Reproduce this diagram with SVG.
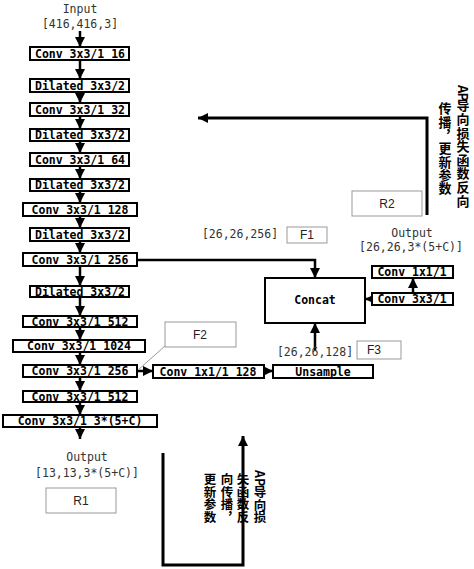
<svg xmlns="http://www.w3.org/2000/svg" width="474" height="569" viewBox="0 0 474 569">
<style>
.b{fill:#fff;stroke:#000;stroke-width:2}
.g{fill:#fff;stroke:#999;stroke-width:1}
.t{font-family:"DejaVu Sans Mono","Liberation Mono",monospace;font-size:11.5px;font-weight:bold;fill:#000;text-anchor:middle}
.l{font-family:"DejaVu Sans Mono","Liberation Mono",monospace;font-size:11.5px;fill:#333;text-anchor:middle}
.s{font-family:"Liberation Sans","Noto Sans",sans-serif;font-size:12px;fill:#222;text-anchor:middle}
.v{font-family:"Noto Sans CJK SC",sans-serif;font-size:13px;font-weight:bold;fill:#000;writing-mode:vertical-rl}
.vb{font-size:12.5px}
.c{fill:none;stroke:#000;stroke-width:2.5}
.c3{fill:none;stroke:#000;stroke-width:3}
</style>
<defs>
<marker id="ah" markerUnits="userSpaceOnUse" markerWidth="10" markerHeight="10" refX="10" refY="5" orient="auto">
<path d="M0,0 L10,5 L0,10 z" fill="#000"/>
</marker>
<marker id="ahs" markerUnits="userSpaceOnUse" markerWidth="8" markerHeight="8" refX="8" refY="4" orient="auto">
<path d="M0,0 L8,4 L0,8 z" fill="#000"/>
</marker>
</defs>

<g id="connectors">
<line class="c" x1="80" y1="31" x2="80" y2="47" marker-end="url(#ah)"/>
<line class="c" x1="80" y1="60" x2="80" y2="79" marker-end="url(#ah)"/>
<line class="c" x1="80" y1="92" x2="80" y2="103" marker-end="url(#ah)"/>
<line class="c" x1="80" y1="116" x2="80" y2="129" marker-end="url(#ah)"/>
<line class="c" x1="80" y1="141" x2="80" y2="153" marker-end="url(#ah)"/>
<line class="c" x1="80" y1="166" x2="80" y2="179" marker-end="url(#ah)"/>
<line class="c" x1="80" y1="191" x2="80" y2="203" marker-end="url(#ah)"/>
<line class="c" x1="80" y1="216" x2="80" y2="228" marker-end="url(#ah)"/>
<line class="c" x1="80" y1="241" x2="80" y2="253" marker-end="url(#ah)"/>
<line class="c" x1="80" y1="266" x2="80" y2="286" marker-end="url(#ah)"/>
<line class="c" x1="80" y1="297" x2="80" y2="316" marker-end="url(#ah)"/>
<line class="c" x1="80" y1="327" x2="80" y2="340" marker-end="url(#ah)"/>
<line class="c" x1="80" y1="352" x2="80" y2="365" marker-end="url(#ah)"/>
<line class="c" x1="80" y1="377" x2="80" y2="391" marker-end="url(#ah)"/>
<line class="c" x1="80" y1="402" x2="80" y2="415" marker-end="url(#ah)"/>
<line class="c" x1="80" y1="427" x2="80" y2="439" marker-end="url(#ah)"/>
<polyline class="c" points="137,260 315,260 315,278" marker-end="url(#ah)"/>
<line class="c" x1="315" y1="350" x2="315" y2="323" marker-end="url(#ah)"/>
<line class="c" x1="372" y1="299" x2="365" y2="299" marker-end="url(#ahs)"/>
<line class="c" x1="413" y1="293" x2="413" y2="278" marker-end="url(#ah)"/>
<line class="c" x1="137" y1="371" x2="153" y2="371" marker-end="url(#ah)"/>
<line class="c" x1="264" y1="371" x2="273" y2="371" marker-end="url(#ahs)"/>
<line x1="165" y1="346" x2="138" y2="370" stroke="#999" stroke-width="1"/>
<polyline class="c3" points="427,215 427,118 198,118" marker-end="url(#ah)"/>
<polyline class="c3" points="163,453 163,565 243,565 243,436" marker-end="url(#ah)"/>
</g>

<g id="input"><text class="l" x="80" y="13">Input</text><text class="l" x="80" y="28">[416,416,3]</text></g>
<g id="n1"><rect class="b" x="30" y="47" width="99" height="13"/><text class="t" x="80" y="57.5">Conv 3x3/1 16</text></g>
<g id="n2"><rect class="b" x="30" y="79" width="99" height="13"/><text class="t" x="80" y="89.5">Dilated 3x3/2</text></g>
<g id="n3"><rect class="b" x="30" y="103" width="99" height="13"/><text class="t" x="80" y="113.5">Conv 3x3/1 32</text></g>
<g id="n4"><rect class="b" x="30" y="129" width="99" height="12"/><text class="t" x="80" y="139">Dilated 3x3/2</text></g>
<g id="n5"><rect class="b" x="30" y="153" width="99" height="13"/><text class="t" x="80" y="163.5">Conv 3x3/1 64</text></g>
<g id="n6"><rect class="b" x="30" y="179" width="99" height="12"/><text class="t" x="80" y="189">Dilated 3x3/2</text></g>
<g id="n7"><rect class="b" x="23" y="203" width="114" height="13"/><text class="t" x="80" y="213.5">Conv 3x3/1 128</text></g>
<g id="n8"><rect class="b" x="30" y="228" width="99" height="13"/><text class="t" x="80" y="238.5">Dilated 3x3/2</text></g>
<g id="n9"><rect class="b" x="23" y="253" width="114" height="13"/><text class="t" x="80" y="263.5">Conv 3x3/1 256</text></g>
<g id="n10"><rect class="b" x="30" y="286" width="99" height="11"/><text class="t" x="80" y="295.5">Dilated 3x3/2</text></g>
<g id="n11"><rect class="b" x="23" y="316" width="114" height="11"/><text class="t" x="80" y="325.5">Conv 3x3/1 512</text></g>
<g id="n12"><rect class="b" x="13" y="340" width="132" height="12"/><text class="t" x="79" y="350">Conv 3x3/1 1024</text></g>
<g id="n13"><rect class="b" x="23" y="365" width="114" height="12"/><text class="t" x="80" y="375">Conv 3x3/1 256</text></g>
<g id="n14"><rect class="b" x="23" y="391" width="114" height="11"/><text class="t" x="80" y="400.5">Conv 3x3/1 512</text></g>
<g id="n15"><rect class="b" x="3" y="415" width="154" height="12"/><text class="t" x="80" y="425">Conv 3x3/1 3*(5+C)</text></g>
<g id="output1"><text class="l" x="87" y="461">Output</text><text class="l" x="87" y="477">[13,13,3*(5+C)]</text></g>
<g id="r1"><rect class="g" x="46" y="488" width="70" height="25"/><text class="s" x="81" y="505">R1</text></g>

<g id="f1"><text class="l" x="240" y="238">[26,26,256]</text><rect class="g" x="287" y="227" width="40" height="16"/><text class="s" x="307" y="239">F1</text></g>
<g id="concat"><rect class="b" x="265" y="278" width="100" height="45"/><text class="t" x="315" y="304">Concat</text></g>
<g id="f3"><text class="l" x="315" y="356">[26,26,128]</text><rect class="g" x="357" y="341" width="44" height="18"/><text class="s" x="374" y="354">F3</text></g>
<g id="f2"><rect class="g" x="165" y="322" width="71" height="25"/><text class="s" x="200" y="339">F2</text></g>
<g id="conv1x1_128"><rect class="b" x="153" y="365" width="111" height="13"/><text class="t" x="208" y="375.5">Conv 1x1/1 128</text></g>
<g id="unsample"><rect class="b" x="273" y="365" width="100" height="13"/><text class="t" x="323" y="375.5">Unsample</text></g>
<g id="conv3x3"><rect class="b" x="372" y="293" width="81" height="12"/><text class="t" x="412" y="303">Conv 3x3/1</text></g>
<g id="conv1x1"><rect class="b" x="372" y="266" width="81" height="12"/><text class="t" x="412" y="276">Conv 1x1/1</text></g>
<g id="output2"><text class="l" x="412" y="237">Output</text><text class="l" x="411" y="251">[26,26,3*(5+C)]</text></g>
<g id="r2"><rect class="g" x="352" y="191" width="70" height="25"/><text class="s" x="387" y="208">R2</text></g>

<g id="note-top">
<text class="v" x="463" y="85 92.5 99 112.6 126.2 139.8 153.4 167 180.6 194.2">AP导向损失函数反向</text>
<text class="v" x="445" y="102 115.3 128.6 141.9 155.2 168.5 181.8">传播，更新参数</text>
</g>
<g id="note-bottom">
<text class="v vb" x="260" y="470">AP导向损</text>
<text class="v vb" x="243" y="473">失函数反</text>
<text class="v vb" x="227" y="473">向传播，</text>
<text class="v vb" x="210" y="473">更新参数</text>
</g>
</svg>
